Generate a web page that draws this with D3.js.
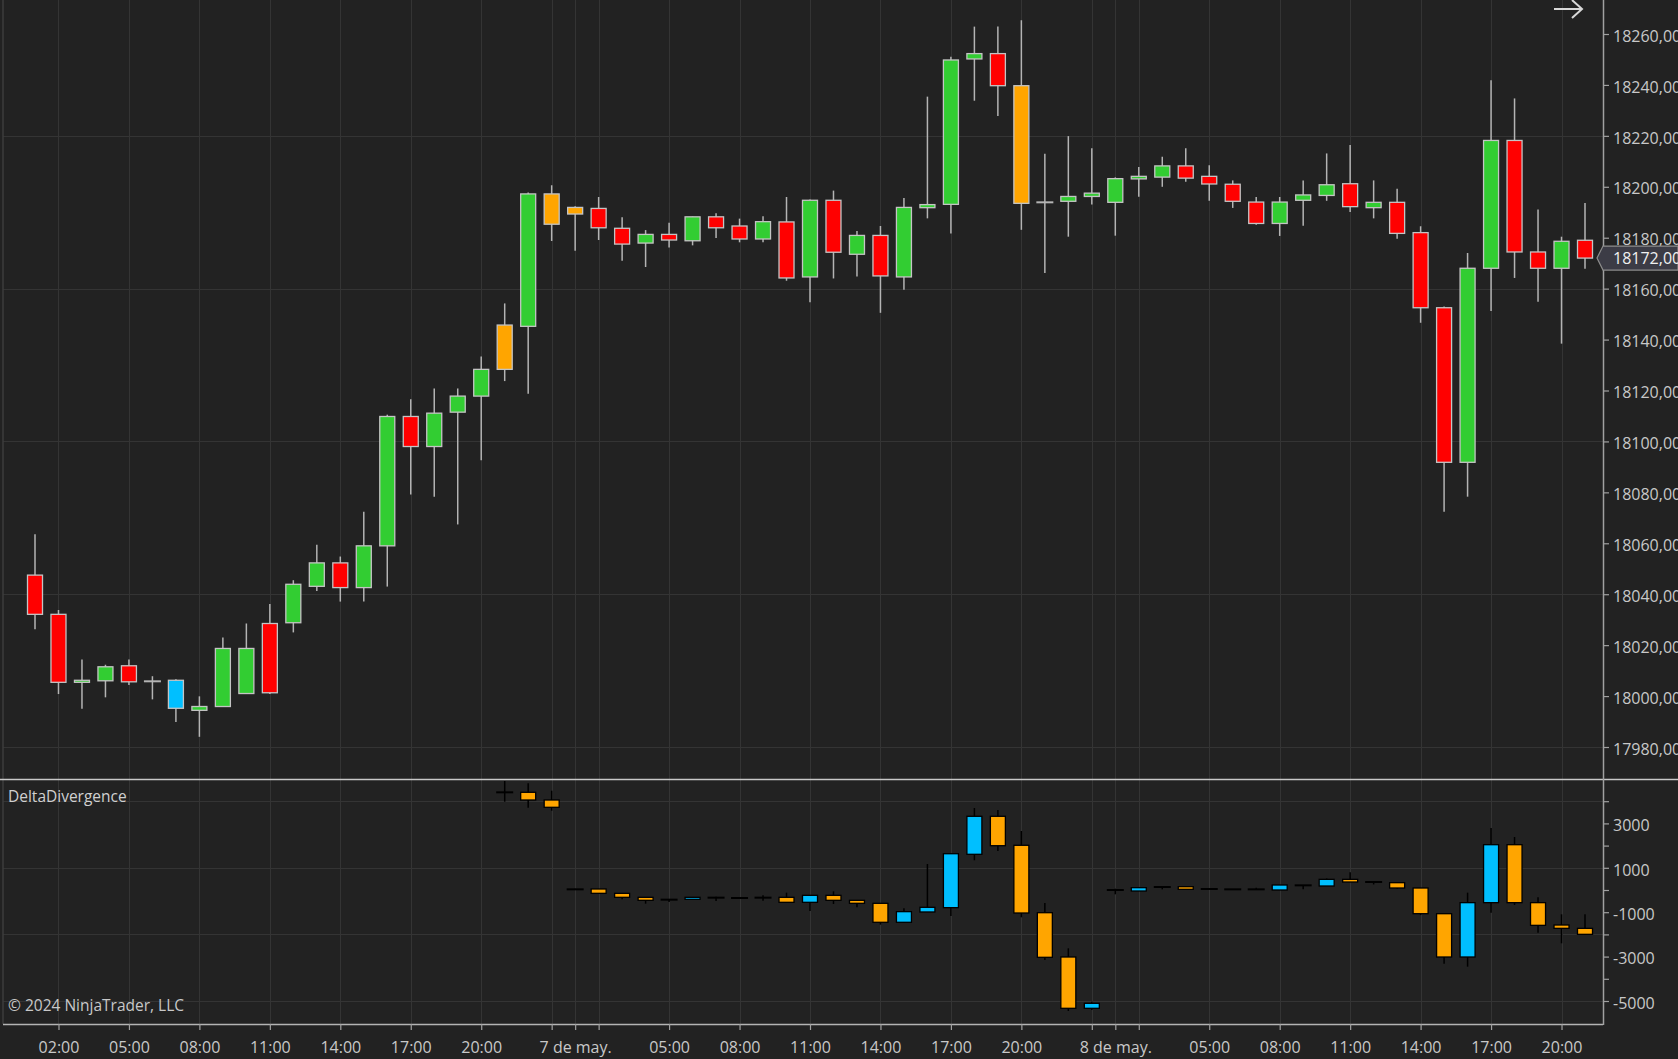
<!DOCTYPE html>
<html>
<head>
<meta charset="utf-8">
<script src="https://cdn.jsdelivr.net/npm/d3@7"></script>
<style>
body { margin: 0; background: #222222; overflow: hidden; }
svg text { font-family: "Open Sans", "Noto Sans", sans-serif; }
</style>
</head>
<body>
<div id="container"></div>
<script>

// hourly bars, index 0..66
var barOpen = [18047.5, 18032.1, 18005.4, 18006.0, 18011.9, 18005.8, 18006.2, 17994.4, 17995.9, 18018.7,
    18001.3, 18028.8, 18043.1, 18052.3, 18042.6, 18059.0, 18109.8, 18098.0, 18111.5, 18117.8,
    18128.3, 18145.2, 18197.2, 18191.9, 18191.5, 18183.7, 18177.9, 18181.3, 18178.8, 18188.2,
    18184.6, 18179.5, 18186.2, 18164.6, 18194.7, 18173.5, 18180.9, 18164.6, 18191.8, 18193.1,
    18250.2, 18252.3, 18239.7, 18193.9, 18194.3, 18196.2, 18193.9, 18203.1, 18203.8, 18208.2,
    18204.1, 18201.0, 18194.0, 18185.6, 18194.7, 18196.6, 18201.2, 18191.8, 18193.9, 18182.0,
    18152.5, 18091.8, 18168.0, 18218.2, 18174.4, 18168.0, 18179.0];
var barHigh = [18063.5, 18033.8, 18014.4, 18012.3, 18014.4, 18007.8, 18006.6, 17999.9, 18023.0, 18028.5,
    18036.2, 18045.5, 18059.4, 18054.8, 18072.4, 18110.5, 18116.6, 18120.8, 18120.8, 18133.4,
    18154.2, 18197.8, 18200.6, 18192.4, 18196.0, 18188.0, 18183.0, 18185.9, 18188.3, 18189.6,
    18187.5, 18188.4, 18196.0, 18195.0, 18198.5, 18182.6, 18184.6, 18195.6, 18235.4, 18251.1,
    18262.9, 18262.9, 18265.4, 18213.0, 18219.9, 18215.1, 18203.7, 18207.8, 18211.8, 18215.1,
    18208.5, 18202.5, 18196.0, 18196.0, 18202.5, 18213.1, 18216.4, 18202.5, 18199.2, 18184.5,
    18153.0, 18174.0, 18241.8, 18234.7, 18191.1, 18180.4, 18193.6];
var barLow = [18026.2, 18000.8, 17995.0, 17999.5, 18004.3, 17998.7, 17989.8, 17984.0, 17995.9, 18001.0,
    18000.8, 18025.0, 18041.3, 18037.1, 18037.1, 18043.0, 18079.2, 18078.3, 18067.4, 18092.6,
    18123.7, 18118.7, 18178.7, 18174.9, 18179.1, 18171.0, 18168.5, 18176.2, 18177.0, 18179.9,
    18178.2, 18178.2, 18163.1, 18154.7, 18164.0, 18164.8, 18150.5, 18159.6, 18187.6, 18181.7,
    18233.8, 18227.8, 18183.1, 18166.1, 18180.4, 18193.0, 18180.8, 18196.1, 18200.0, 18202.0,
    18194.5, 18191.7, 18185.1, 18180.7, 18184.7, 18194.5, 18190.1, 18187.6, 18179.6, 18146.6,
    18072.4, 18078.3, 18151.2, 18164.2, 18154.9, 18138.4, 18167.8];
var barClose = [18032.1, 18005.4, 18006.2, 18011.5, 18005.6, 18005.8, 17995.2, 17995.9, 18018.7, 18001.0,
    18028.5, 18043.9, 18052.3, 18042.6, 18059.0, 18109.8, 18098.0, 18111.1, 18117.8, 18128.3,
    18145.7, 18197.2, 18185.3, 18189.3, 18183.9, 18177.5, 18181.3, 18179.1, 18188.2, 18183.9,
    18179.5, 18186.3, 18164.2, 18194.7, 18174.3, 18180.9, 18165.0, 18191.9, 18193.0, 18249.8,
    18252.3, 18239.7, 18193.5, 18193.9, 18196.2, 18197.5, 18203.2, 18204.1, 18208.2, 18203.4,
    18201.1, 18194.3, 18185.6, 18194.0, 18196.8, 18200.8, 18192.2, 18193.9, 18181.7, 18152.5,
    18091.8, 18168.0, 18218.2, 18174.4, 18168.0, 18178.6, 18172.0];
// g green, r red, o orange, b blue, d doji
var barColor = "rrggrdbgggrggrggrggg" + "ogoorrgrgrrgrgrgrggg" + "grodgggggrrrrgggrgrr" + "rggrrgr";

// DeltaDivergence, starts at bar 20
var deltaStart = 20;
var deltaOpen = [4400, 4401, 4054, 30, 45, -150, -330, -435, -330, -345,
    -360, -345, -330, -240, -240, -465, -600, -975, -780, 1635,
    3320, 3320, 2014, -1022, -3018, -5104, 0, 105, 135, 150,
    45, 30, 30, 225, 210, 480, 480, 360, 330, 90,
    -1067, -570, 2041, 2041, -570, -1577, -1727];
var deltaHigh = [4910, 4806, 4473, 60, 45, -150, -330, -420, -330, -300,
    -340, -240, -120, -240, -60, -465, -600, -825, 1170, 1635,
    3694, 3604, 2658, -586, -2626, -5030, 60, 105, 180, 180,
    60, 45, 100, 225, 225, 520, 795, 380, 330, 90,
    -1067, -120, 2793, 2387, -330, -1096, -1096];
var deltaLow = [3977, 3707, 3572, 0, -150, -420, -615, -540, -420, -500,
    -380, -480, -555, -945, -630, -780, -1560, -1455, -990, -1170,
    1338, 1757, -1230, -3153, -5450, -5400, -195, -45, 30, 30,
    0, 0, 30, 0, 30, 180, 360, 250, 60, -1130,
    -3320, -3453, -1021, -675, -1922, -2402, -2027];
var deltaClose = [4400, 4054, 3725, 30, -150, -330, -465, -435, -420, -345,
    -360, -345, -555, -555, -465, -600, -1455, -1455, -990, -795,
    1608, 1995, -1036, -3032, -5329, -5329, 0, -45, 135, 30,
    45, 30, 30, 0, 210, 180, 360, 360, 90, -1067,
    -3018, -3018, -570, -570, -1592, -1727, -1997];
var deltaColor = "doodooodbd" + "ddobooobbb" + "boooobdbdo" + "dddbdbodoo" + "obboooo";

var tickIdx = [1, 4, 7, 10, 13, 16, 19, 22, 23, 24, 27, 30, 33, 36, 39, 42, 45, 46, 47, 50, 53, 56, 59, 62, 65];
var tickLbl = ["02:00", "05:00", "08:00", "11:00", "14:00", "17:00", "20:00", "", "7 de may.", "", "05:00", "08:00",
    "11:00", "14:00", "17:00", "20:00", "", "8 de may.", "", "05:00", "08:00", "11:00", "14:00", "17:00", "20:00"];

var lastPrice = 18172;

var colors = { g: "#32cd32", r: "#ff0000", o: "#ffa500", b: "#00bfff" };

var W = 1678, H = 1059;
var axisX = 1603, plotLeft = 3;
var mainBottom = 779, lowBottom = 1024;
var bodyW = 15;

var svg = d3.select("#container").append("svg").attr("width", W).attr("height", H);
svg.append("rect").attr("width", W).attr("height", H).attr("fill", "#222222");

var x = d3.scaleLinear().domain([0, 66]).range([35, 1585]);
var y = d3.scaleLinear().domain([17980, 18260]).range([747, 34]);
var yLow = d3.scaleLinear().domain([-5000, 4000]).range([1001, 801.2]);

var defs = svg.append("defs");
defs.append("clipPath").attr("id", "clipMain").append("rect")
    .attr("x", plotLeft).attr("y", 0).attr("width", axisX - plotLeft).attr("height", mainBottom);
defs.append("clipPath").attr("id", "clipLow").append("rect")
    .attr("x", plotLeft).attr("y", mainBottom + 1).attr("width", axisX - plotLeft).attr("height", lowBottom - mainBottom - 1);

// grid
var grid = svg.append("g").attr("stroke", "#343434").attr("stroke-width", 1);
grid.selectAll(".vg").data(tickIdx).enter().append("line")
    .attr("x1", d => Math.round(x(d)) + 0.5).attr("x2", d => Math.round(x(d)) + 0.5)
    .attr("y1", 0).attr("y2", lowBottom);
grid.selectAll(".hg").data(d3.range(17980, 18261, 60)).enter().append("line")
    .attr("x1", plotLeft).attr("x2", axisX)
    .attr("y1", d => Math.round(y(d)) + 0.5).attr("y2", d => Math.round(y(d)) + 0.5);
grid.selectAll(".hl").data([-5000, -2000, 1000, 4000]).enter().append("line")
    .attr("x1", plotLeft).attr("x2", axisX)
    .attr("y1", d => Math.round(yLow(d)) + 0.5).attr("y2", d => Math.round(yLow(d)) + 0.5);
svg.append("line").attr("x1", plotLeft).attr("x2", plotLeft).attr("y1", 0).attr("y2", lowBottom)
    .attr("stroke", "#3c3c3c").attr("stroke-width", 1.5);

function drawCandles(g, ys, O, Hi, Lo, C, col, offset, wickColor, edgeColor)
{
    var data = O.map(function (o, k) {
        return { i: k + offset, o: o, h: Hi[k], l: Lo[k], c: C[k], col: col[k] };
    });

    g.selectAll(".wick").data(data).enter().append("line")
        .attr("x1", d => x(d.i)).attr("x2", d => x(d.i))
        .attr("y1", d => ys(d.h)).attr("y2", d => ys(d.l))
        .attr("stroke", wickColor).attr("stroke-width", 1.5);

    var bodies = data.filter(d => d.col !== "d");
    g.selectAll(".body").data(bodies).enter().append("rect")
        .attr("x", d => x(d.i) - bodyW / 2)
        .attr("y", d => ys(Math.max(d.o, d.c)))
        .attr("width", bodyW)
        .attr("height", d => Math.max(2, Math.abs(ys(d.o) - ys(d.c))))
        .attr("fill", d => colors[d.col])
        .attr("stroke", edgeColor).attr("stroke-width", 1.3);

    var dojis = data.filter(d => d.col === "d");
    g.selectAll(".doji").data(dojis).enter().append("line")
        .attr("x1", d => x(d.i) - bodyW / 2 - 1).attr("x2", d => x(d.i) + bodyW / 2 + 1)
        .attr("y1", d => ys(d.o)).attr("y2", d => ys(d.o))
        .attr("stroke", wickColor).attr("stroke-width", 2);
}

var mainG = svg.append("g").attr("clip-path", "url(#clipMain)");
drawCandles(mainG, y, barOpen, barHigh, barLow, barClose, barColor.split(""), 0, "#b4b4b4", "#c4c4c4");

var lowG = svg.append("g").attr("clip-path", "url(#clipLow)");
drawCandles(lowG, yLow, deltaOpen, deltaHigh, deltaLow, deltaClose, deltaColor.split(""), deltaStart, "#000000", "#000000");

// frame lines
svg.append("line").attr("x1", 0).attr("x2", W).attr("y1", mainBottom + 0.5).attr("y2", mainBottom + 0.5)
    .attr("stroke", "#c8c8c8").attr("stroke-width", 1.5);
svg.append("line").attr("x1", plotLeft).attr("x2", axisX).attr("y1", lowBottom + 0.5).attr("y2", lowBottom + 0.5)
    .attr("stroke", "#b4b4b4").attr("stroke-width", 1.5);
svg.append("line").attr("x1", axisX + 0.5).attr("x2", axisX + 0.5).attr("y1", 0).attr("y2", lowBottom + 1)
    .attr("stroke", "#a0a0a0").attr("stroke-width", 1.5);

// price axis
var priceAxis = d3.axisRight(y)
    .tickValues(d3.range(17980, 18261, 20))
    .tickSize(6).tickSizeOuter(0).tickPadding(4)
    .tickFormat(d => d3.format(".2f")(d).replace(".", ","));
var pa = svg.append("g").attr("transform", "translate(" + axisX + ",0)").call(priceAxis);

var deltaAxis = d3.axisRight(yLow)
    .tickValues(d3.range(-5000, 4001, 1000))
    .tickSize(6).tickSizeOuter(0).tickPadding(4)
    .tickFormat(d => (d % 2000 !== 0) ? d : "");
var da = svg.append("g").attr("transform", "translate(" + axisX + ",0)").call(deltaAxis);

var timeAxis = d3.axisBottom(x)
    .tickValues(tickIdx)
    .tickSize(6).tickSizeOuter(0).tickPadding(12)
    .tickFormat((d, k) => tickLbl[k]);
var ta = svg.append("g").attr("transform", "translate(0," + lowBottom + ")").call(timeAxis);

[pa, da, ta].forEach(function (a) {
    a.select(".domain").remove();
    a.selectAll("line").attr("stroke", "#a0a0a0").attr("stroke-width", 1.2);
    a.selectAll("text").attr("fill", "#c8c8c8").style("font-size", "16px");
});
pa.selectAll("text").attr("dy", "0.45em");
da.selectAll("text").attr("dy", "0.45em");

// last price tag
var ly = y(lastPrice);
svg.append("path")
    .attr("d", "M" + (axisX - 6) + "," + ly + "L" + axisX + "," + (ly - 12) + "L" + W + "," + (ly - 12) +
        "L" + W + "," + (ly + 12) + "L" + axisX + "," + (ly + 12) + "Z")
    .attr("fill", "#3c3c46").attr("stroke", "#8c8c8c").attr("stroke-width", 1.2);
svg.append("text").attr("x", axisX + 10).attr("y", ly).attr("dy", "0.36em")
    .attr("fill", "#f0f0f0").style("font-size", "16px")
    .text(d3.format(".2f")(lastPrice).replace(".", ","));

// labels
svg.append("text").attr("x", 8).attr("y", 797).attr("dy", "0.35em")
    .attr("fill", "#d0d0d0").style("font-size", "15.5px").text("DeltaDivergence");
svg.append("text").attr("x", 8).attr("y", 1006).attr("dy", "0.35em")
    .attr("fill", "#c8c8c8").style("font-size", "15.5px").text("© 2024 NinjaTrader, LLC");

// scroll arrow
svg.append("path").attr("d", "M1554,9L1582,9M1572,0L1582,9L1572,18")
    .attr("fill", "none").attr("stroke", "#d8d8d8").attr("stroke-width", 2);

</script>
</body>
</html>
